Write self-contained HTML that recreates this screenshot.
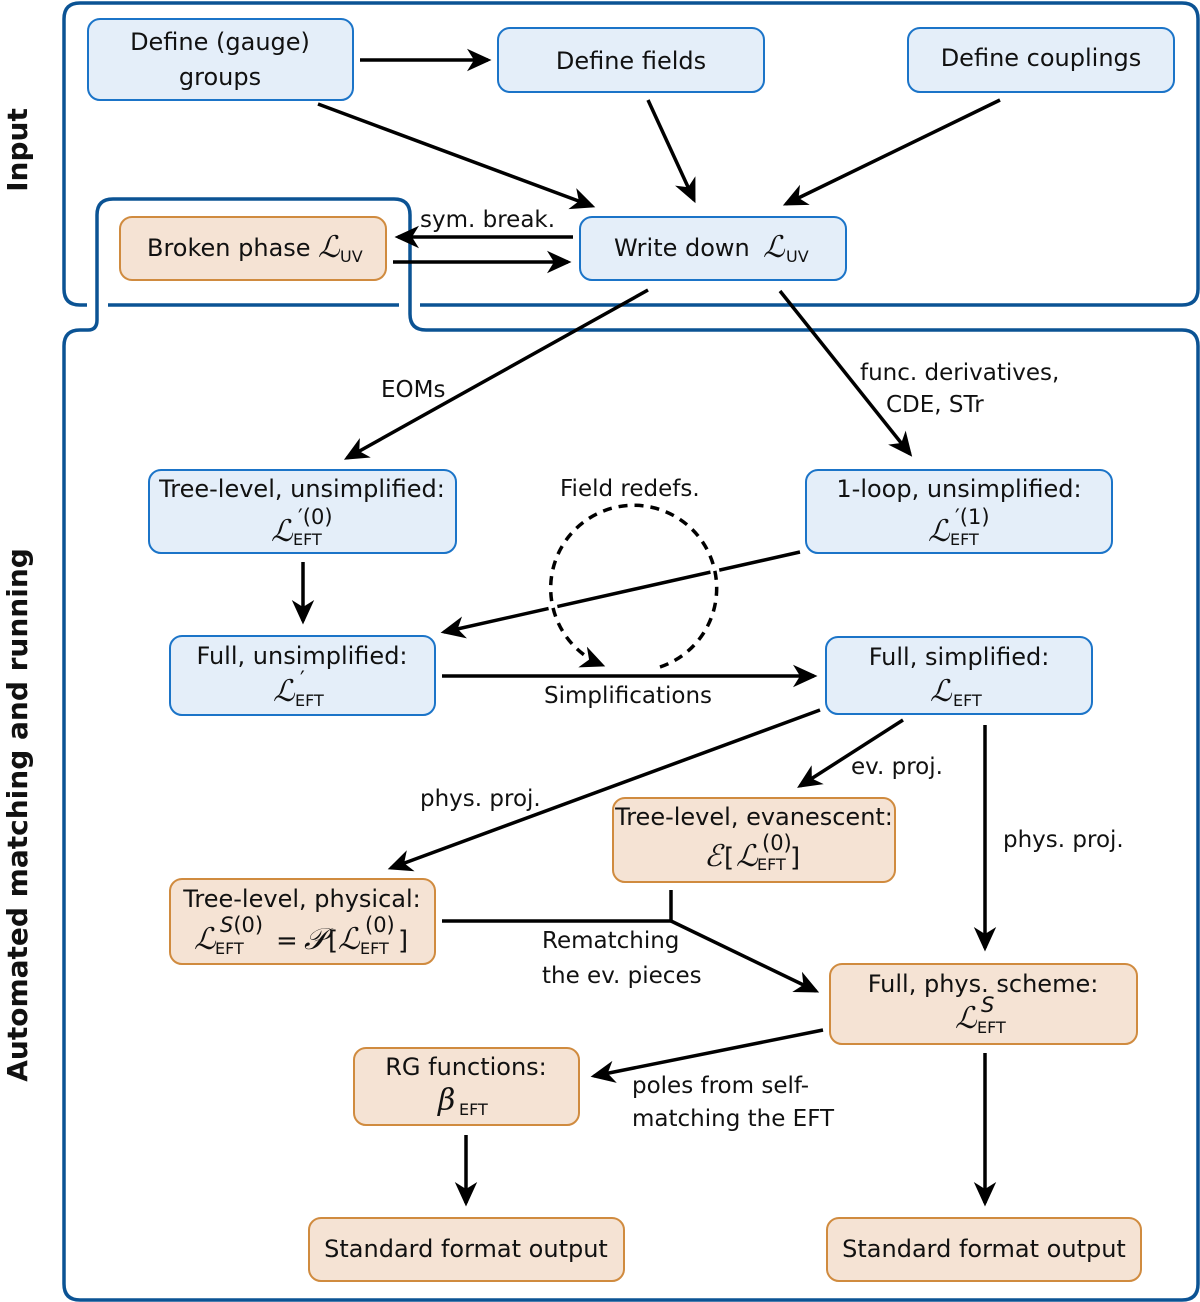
<!DOCTYPE html>
<html><head><meta charset="utf-8"><style>
body{margin:0;background:#fff}
svg{display:block}
text{font-family:"DejaVu Sans","Liberation Sans",sans-serif;fill:#111}
.n{font-size:24px;text-anchor:middle}
.l{font-size:23px}
.m{font-family:"DejaVu Serif","Liberation Serif",serif;font-style:italic;font-size:30px}
.p{font-size:21px}
.s{font-size:16px}
.b{fill:#e4eef9;stroke:#1b74c8;stroke-width:2}
.o{fill:#f5e3d4;stroke:#d08b3f;stroke-width:2}
.a{stroke:#000;stroke-width:3.5;fill:none;marker-end:url(#ar)}
.ln{stroke:#000;stroke-width:3.5;fill:none}
.fr{stroke:#0b5394;stroke-width:3.5;fill:none}
</style></head><body>
<svg width="1200" height="1302" viewBox="0 0 1200 1302">
<defs><marker id="ar" markerWidth="8" markerHeight="8" refX="6" refY="4" orient="auto" markerUnits="strokeWidth"><path d="M0,0.8 L7,4 L0,7.2 L2,4 Z" fill="#000"/></marker></defs>
<path class="fr" d="M87,305 L80,305 Q64,305 64,289 L64,19 Q64,3 80,3 L1182,3 Q1198,3 1198,19 L1198,289 Q1198,305 1182,305 L420,305"/>
<path class="fr" d="M108,305 L399,305"/>
<path class="fr" d="M64,1284 L64,346 Q64,330 80,330 L88,330 Q97,330 97,320 L97,215 Q97,199 113,199 L394,199 Q410,199 410,215 L410,314 Q410,330 426,330 L1182,330 Q1198,330 1198,346 L1198,1284 Q1198,1300 1182,1300 L80,1300 Q64,1300 64,1284 Z"/>
<text transform="translate(27,150) rotate(-90)" text-anchor="middle" style="font-size:28px;font-weight:bold">Input</text>
<text transform="translate(27,815) rotate(-90)" text-anchor="middle" style="font-size:28px;font-weight:bold">Automated matching and running</text>

<rect class="b" x="88" y="19" width="265" height="81" rx="12"/>
<text class="n" x="220" y="50">Define (gauge)</text><text class="n" x="220" y="85">groups</text>
<rect class="b" x="498" y="28" width="266" height="64" rx="12"/><text class="n" x="631" y="69">Define fields</text>
<rect class="b" x="908" y="28" width="266" height="64" rx="12"/><text class="n" x="1041" y="66">Define couplings</text>
<rect class="o" x="120" y="217" width="266" height="63" rx="12"/>
<text x="147" y="256" font-size="24">Broken phase</text><text class="m" x="318" y="257" font-size="26">ℒ</text><text class="s" x="340" y="262">UV</text>
<rect class="b" x="580" y="217" width="266" height="63" rx="12"/>
<text x="614" y="256" font-size="24">Write down</text><text class="m" x="763" y="257" font-size="26">ℒ</text><text class="s" x="786" y="262">UV</text>

<rect class="b" x="149" y="470" width="307" height="83" rx="12"/>
<text class="n" x="302" y="497" font-size="23">Tree-level, unsimplified:</text>
<text class="m" x="271" y="541">ℒ</text><text class="p" x="298" y="524">′(0)</text><text class="s" x="293" y="545">EFT</text>
<rect class="b" x="806" y="470" width="306" height="83" rx="12"/>
<text class="n" x="959" y="497">1-loop, unsimplified:</text>
<text class="m" x="928" y="541">ℒ</text><text class="p" x="955" y="524">′(1)</text><text class="s" x="950" y="545">EFT</text>

<rect class="b" x="170" y="636" width="265" height="79" rx="12"/>
<text class="n" x="302" y="664">Full, unsimplified:</text>
<text class="m" x="273" y="701">ℒ</text><text class="p" x="300" y="686">′</text><text class="s" x="295" y="706">EFT</text>
<rect class="b" x="826" y="637" width="266" height="77" rx="12"/>
<text class="n" x="959" y="665">Full, simplified:</text>
<text class="m" x="930" y="701">ℒ</text><text class="s" x="953" y="706">EFT</text>

<rect class="o" x="613" y="798" width="282" height="84" rx="12"/>
<text class="n" x="754" y="825" font-size="23">Tree-level, evanescent:</text>
<text class="m" x="704" y="866" font-size="28">ℰ</text><text x="724" y="866" font-size="26">[</text>
<text class="m" x="736" y="866">ℒ</text><text class="p" x="762" y="850">(0)</text><text class="s" x="757" y="870">EFT</text><text x="790" y="866" font-size="26">]</text>

<rect class="o" x="170" y="879" width="265" height="85" rx="12"/>
<text class="n" x="302" y="907" font-size="23">Tree-level, physical:</text>
<text class="m" x="194" y="949">ℒ</text><text class="p" x="220" y="932"><tspan font-style="italic">S</tspan>(0)</text><text class="s" x="215" y="954">EFT</text>
<text x="276" y="949" font-size="26">=</text>
<text class="m" x="304" y="949" font-size="28">𝒫</text><text x="328" y="949" font-size="26">[</text>
<text class="m" x="338" y="949">ℒ</text><text class="p" x="365" y="932">(0)</text><text class="s" x="360" y="954">EFT</text><text x="398" y="949" font-size="26">]</text>

<rect class="o" x="830" y="964" width="307" height="80" rx="12"/>
<text class="n" x="983" y="992">Full, phys. scheme:</text>
<text class="m" x="955" y="1028">ℒ</text><text class="p" x="981" y="1012" font-style="italic">S</text><text class="s" x="977" y="1033">EFT</text>
<rect class="o" x="354" y="1048" width="225" height="77" rx="12"/>
<text class="n" x="466" y="1075">RG functions:</text>
<text class="m" x="438" y="1110" font-size="28">β</text><text class="s" x="459" y="1115">EFT</text>
<rect class="o" x="309" y="1218" width="315" height="63" rx="12"/><text class="n" x="466" y="1257">Standard format output</text>
<rect class="o" x="827" y="1218" width="314" height="63" rx="12"/><text class="n" x="984" y="1257">Standard format output</text>

<path class="a" d="M360,60 L488,60"/>
<path class="a" d="M318,104 L592,206"/>
<path class="a" d="M648,100 L694,200"/>
<path class="a" d="M1000,100 L786,204"/>
<path class="a" d="M573,237 L398,237"/>
<text class="l" x="420" y="227">sym. break.</text>
<path class="a" d="M393,262 L568,262"/>
<path class="a" d="M648,290 L347,458"/>
<text class="l" x="381" y="397">EOMs</text>
<path class="a" d="M780,291 L910,454"/>
<text class="l" x="860" y="380">func. derivatives,</text>
<text class="l" x="886" y="412">CDE, STr</text>
<path class="a" d="M303,562 L303,621"/>
<path class="a" d="M800,552 L444,632"/>
<path d="M660,667 A83,83 0 1 0 602,665" fill="none" stroke="#fff" stroke-width="9"/>
<path d="M660,667 A83,83 0 1 0 602,665" fill="none" stroke="#000" stroke-width="3.5" stroke-dasharray="9,7" marker-end="url(#ar)"/>
<text class="l" x="560" y="496">Field redefs.</text>
<path class="a" d="M442,676 L814,676"/>
<text class="l" x="544" y="703">Simplifications</text>
<path class="a" d="M820,710 L391,868"/>
<text class="l" x="420" y="806">phys. proj.</text>
<path class="a" d="M903,720 L800,786"/>
<text class="l" x="851" y="774">ev. proj.</text>
<path class="a" d="M985,725 L985,948"/>
<text class="l" x="1003" y="847">phys. proj.</text>
<path class="ln" d="M442,921 L671,921 M671,890 L671,921"/>
<path class="a" d="M671,921 L816,991"/>
<text class="l" x="542" y="948">Rematching</text>
<text class="l" x="542" y="983">the ev. pieces</text>
<path class="a" d="M823,1030 L594,1076"/>
<text class="l" x="632" y="1093">poles from self-</text>
<text class="l" x="632" y="1126">matching the EFT</text>
<path class="a" d="M466,1135 L466,1203"/>
<path class="a" d="M985,1053 L985,1203"/>
</svg>
</body></html>
